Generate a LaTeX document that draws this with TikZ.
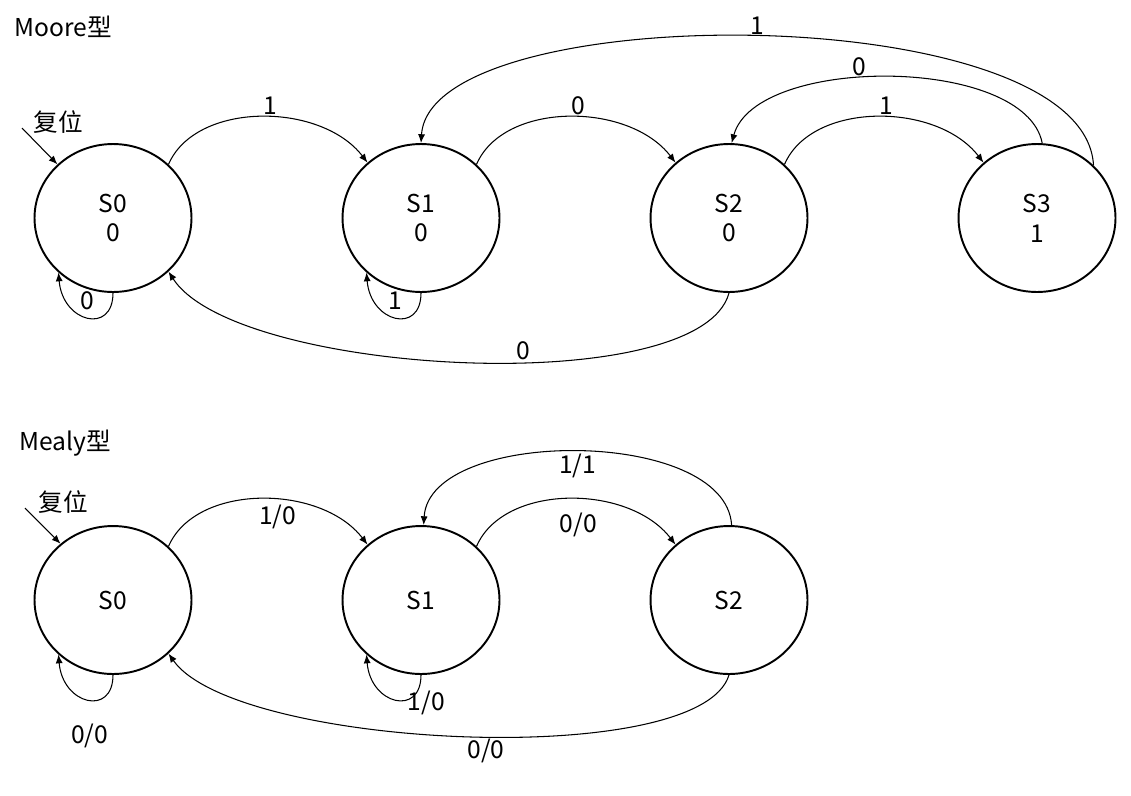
\documentclass[tikz,border=0pt]{standalone}
\usepackage{fontspec}
\setmainfont{Noto Sans CJK SC}
\usetikzlibrary{shapes.geometric,arrows.meta}

\begin{document}
\begin{tikzpicture}[x=0.02cm,y=-0.02cm,line width=0.6pt,>={Latex[length=5pt,width=4pt]},font=\fontsize{14pt}{17pt}\selectfont,
st/.style={draw,ellipse,line width=1.1pt,minimum width=3.14cm,minimum height=2.96cm,inner sep=0pt,align=center},
lab/.style={above,inner sep=1pt},lab1/.style={below,inner sep=1pt},loopl/.style={above=3pt,inner sep=1pt}]
\useasboundingbox (0,0) rectangle (1131,795);
% Moore
\node[anchor=west] (t1) at (8,27) {Moore型};
\foreach \i/\o in {0/0,1/0,2/0,3/1}{\node[st] (m\i) at (113+308*\i,218) {S\i\\\o};};
\coordinate (r1) at (22,128);
\node (f1) at (58,122) {复位};
\draw[->] (r1) -- (m0.136);
\foreach \a/\b/\l in {0/1/1,1/2/0,2/3/1}{\draw[->] (m\a.44) .. controls +(27,-63) and +(-47,-61) .. (m\b.134) node[lab,pos=.54]{\l};};
\draw[->] (m3.86) .. controls +(-17,-88) and +(24,-88) .. (m2.88) node[lab,pos=.57]{0};
\draw[->] (m3.43) .. controls +(-9,-168) and +(9,-146) .. (m1.90) node[lab,pos=.5]{1};
\draw[->] (m2.270) .. controls +(-29,108) and +(67,104) .. (m0.-44) node[lab,pos=.42]{0};
\draw[->] (m0.270) .. controls +(0,42) and +(4,50) .. (m0.225) node[loopl,pos=.5]{0};
\draw[->] (m1.270) .. controls +(0,42) and +(4,50) .. (m1.225) node[loopl,pos=.5]{1};
% Mealy
\node[anchor=west] (t2) at (13,443) {Mealy型};
\foreach \i in {0,1,2}{\node[st] (n\i) at (113+308*\i,600) {S\i};};
\coordinate (r2) at (25,508);
\node (f2) at (63,502) {复位};
\draw[->] (r2) -- (n0.133);
\draw[->] (n0.44) .. controls +(27,-63) and +(-47,-61) .. (n1.134) node[lab1,pos=.57,yshift=-0.06cm]{1/0};
\draw[->] (n1.44) .. controls +(27,-63) and +(-47,-61) .. (n2.134) node[lab1,pos=.54,yshift=-0.22cm]{0/0};
\draw[->] (n2.88) .. controls +(-6,-98) and +(6,-98) .. (n1.88) node[lab1,pos=.5]{1/1};
\draw[->] (n2.270) .. controls +(-29,96) and +(67,95) .. (n0.-44) node[lab1,pos=.47]{0/0};
\draw[->] (n0.270) .. controls +(0,42) and +(4,50) .. (n0.225) node[below=13pt,inner sep=1pt,pos=.5,xshift=0.05cm]{0/0};
\draw[->] (n1.270) .. controls +(0,42) and +(4,50) .. (n1.225) node[pos=.5,xshift=0.62cm,yshift=-0.08cm]{1/0};
\end{tikzpicture}
\end{document}
